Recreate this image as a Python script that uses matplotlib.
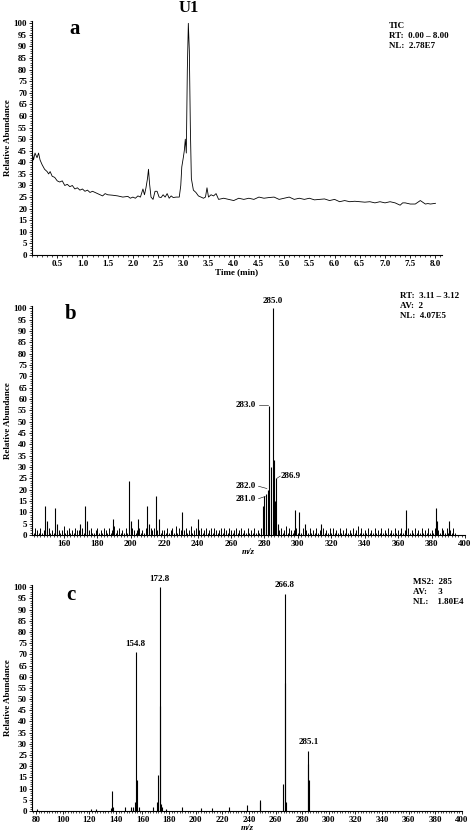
import matplotlib
matplotlib.use("Agg")
import matplotlib.pyplot as plt
from matplotlib.ticker import MultipleLocator

plt.rcParams['font.family'] = ['Liberation Serif']
plt.rcParams['font.weight'] = 'bold'
plt.rcParams['axes.labelweight'] = 'bold'

# ---- panel a: TIC ----
tic_t = [0.0,0.03,0.06,0.1,0.13,0.16,0.2,0.25,0.3,0.33,0.36,0.4,0.45,0.5,0.55,0.6,0.65,0.7,0.75,0.8,0.85,0.9,
         0.95,1.0,1.05,1.1,1.15,1.2,1.3,1.35,1.4,1.45,1.5,1.6,1.7,1.8,1.9,1.95,2.0,2.05,2.1,2.15,2.2,2.23,2.26,
         2.29,2.31,2.33,2.36,2.4,2.44,2.48,2.52,2.56,2.6,2.64,2.68,2.72,2.76,2.8,2.86,2.92,2.95,2.97,3.0,3.02,
         3.04,3.06,3.08,3.1,3.12,3.14,3.16,3.2,3.25,3.3,3.35,3.4,3.44,3.47,3.5,3.55,3.6,3.65,3.7,3.8,3.9,4.0,
         4.1,4.2,4.3,4.4,4.5,4.6,4.7,4.8,4.9,5.0,5.1,5.2,5.3,5.4,5.5,5.6,5.7,5.8,5.9,6.0,6.1,6.2,6.3,6.4,6.5,
         6.6,6.7,6.8,6.9,7.0,7.1,7.2,7.3,7.35,7.4,7.5,7.6,7.7,7.8,7.85,7.9,8.0]
tic_v = [45,41,44,42,44,41,39,37,36,35,36,34,33.5,32,31.5,32,30,30.5,29.5,30,28.5,29,28,28.5,27.5,28,27,27.5,
         26.5,26,25.5,26.5,26,25.8,25.5,25,25.3,24.5,25,24.5,25.5,25,28.5,26,29,33,37,31,25,24,27.5,27.5,25,
         24.8,26,25,26.5,24.5,25.5,24.8,25,25,30,38,42,45,50,44,80,100,88,55,33,28,27,25.5,25,24.5,25,29,25,
         26,25.5,26.5,24,24.5,24,23.5,24.5,24,24.5,24,25,24.5,24.8,25,24,24.5,25,24,24.5,24,24.5,23.8,24,24.2,
         23.5,24,23,23.5,23,23.2,23,22.8,23,22.5,23,22.5,23,22.5,21.5,22.5,22.5,22,22,23.5,22,22.2,22,22.3]

# ---- panel b: full MS ----
msb_mz = [148.5,150,155,156,170,173,174,189.5,199,200,204.5,210,211,215,217,230.5,240.5,
          279,280,281,282,283,284,285,285.6,286.2,286.9,288,298.5,300.5,304,314,364.5,382.5,383.5,390.5]
msb_int = [13,6,12,5,5,13,6,7,24,6,7,13,5,17,7,10,7,
           13,17,18,20,57,30,100,33,15,25,5,11,10,5,5,11,12,6,6]
noise_start = 141
noise_levels = ("2132131212312113212412312132213121231123121321312412312131213212312132132312312"
                "2131231413212312412312312312313212313213212312312131213121321321312312312413212"
                "3121312131213121312131312131213121312413121312131213121312131213121312131213121"
                "31213121321312131")

# ---- panel c: MS2 ----
msc_mz = [81,121,125,136,137,138,147,151,153,154,154.8,155.5,157,168,171,172,172.8,173.3,174,175,178,
          189.5,204,212,225,238.5,248,248.6,265.5,266.8,267.3,268,284.2,284.6,285.1]
msc_int = [1,1,1,1.5,9,2,2,2,2,4,71,14,2,2,4,16,100,47,3,2,1,
           2,1.5,1.5,2,2.5,5,4,12,97,57,4,21,27,14]

fig = plt.figure(figsize=(4.74, 8.36), dpi=100)
W, H = 474, 836
def ax_at(l, t, r, b):
    return fig.add_axes([l/W, 1-b/H, (r-l)/W, (b-t)/H])

fs = 6.5
B = 'bold'
def style(ax):
    ax.set_ylim(0, 101)
    ax.yaxis.set_major_locator(MultipleLocator(5))
    ax.yaxis.set_minor_locator(MultipleLocator(1))
    ax.tick_params(labelsize=fs, length=2.5, width=0.6, pad=1)
    ax.tick_params(which='minor', length=1.5, width=0.5)
    for s in ['top', 'right']:
        ax.spines[s].set_visible(False)
    for s in ['left', 'bottom']:
        ax.spines[s].set_linewidth(0.8)
    ax.set_ylabel('Relative Abundance', fontsize=fs, labelpad=1, fontweight=B)
    for lab in ax.get_xticklabels() + ax.get_yticklabels():
        lab.set_fontweight(B)

# a
ax = ax_at(32, 21, 442, 255)
ax.plot(tic_t, tic_v, color='black', lw=0.6)
ax.set_xlim(0, 8.13)
ax.xaxis.set_minor_locator(MultipleLocator(0.1))
ax.set_xticks([x/2 for x in range(1, 17)])
ax.set_xticklabels([f"{x/2:.1f}" for x in range(1, 17)])
style(ax)
ax.set_xlabel('Time (min)', fontsize=fs, labelpad=0, fontweight=B)
ax.text(0.87, 0.995, 'TIC\nRT:  0.00 – 8.00\nNL:  2.78E7', transform=ax.transAxes, fontsize=6.5, va='top', linespacing=1.3, fontweight=B)
ax.text(0.105, 0.965, 'a', transform=ax.transAxes, fontsize=15, va='center', ha='center', fontweight=B)
ax.text(3.1, 103, 'U1', fontsize=12, ha='center', va='bottom', fontweight=B)

# b
ax = ax_at(32, 306, 465, 535)
nz = [noise_start + i for i in range(len(noise_levels))]
nv = [int(c) for c in noise_levels]
ax.vlines(nz, 0, nv, color='black', lw=0.7)
ax.vlines(msb_mz, 0, msb_int, color='black', lw=0.8)
ax.set_xlim(141, 400)
ax.xaxis.set_major_locator(MultipleLocator(20))
ax.xaxis.set_minor_locator(MultipleLocator(2))
style(ax)
ax.set_xlabel('m/z', fontsize=fs, style='italic', labelpad=0, fontweight=B)
ax.text(0.85, 1.06, 'RT:  3.11 – 3.12\nAV:  2\nNL:  4.07E5', transform=ax.transAxes, fontsize=6.5, va='top', linespacing=1.3, fontweight=B)
ax.text(0.09, 0.965, 'b', transform=ax.transAxes, fontsize=15, va='center', ha='center', fontweight=B)
ax.text(285, 101.5, '285.0', fontsize=6.5, ha='center', va='bottom', fontweight=B)
ax.text(275, 57.5, '283.0', fontsize=6.5, ha='right', va='center', fontweight=B)
ax.plot([276.5, 282.2], [57.5, 57.5], color='black', lw=0.4)
ax.text(275, 21.5, '282.0', fontsize=6.5, ha='right', va='center', fontweight=B)
ax.plot([276.5, 281.5], [21.5, 20.5], color='black', lw=0.4)
ax.text(275, 16, '281.0', fontsize=6.5, ha='right', va='center', fontweight=B)
ax.plot([276.5, 280.5], [16, 17], color='black', lw=0.4)
ax.text(290, 26, '286.9', fontsize=6.5, ha='left', va='center', fontweight=B)
ax.plot([287.5, 289.5], [25, 26], color='black', lw=0.4)

# c
ax = ax_at(32, 585, 462, 811)
ax.vlines(msc_mz, 0, msc_int, color='black', lw=0.8)
ax.set_xlim(77, 400)
ax.xaxis.set_major_locator(MultipleLocator(20))
ax.xaxis.set_minor_locator(MultipleLocator(2))
style(ax)
ax.set_xlabel('m/z', fontsize=fs, style='italic', labelpad=0, fontweight=B)
ax.text(0.885, 1.03, 'MS2:  285\nAV:     3\nNL:    1.80E4', transform=ax.transAxes, fontsize=6.5, va='top', linespacing=1.3, fontweight=B)
ax.text(0.09, 0.955, 'c', transform=ax.transAxes, fontsize=15, va='center', ha='center', fontweight=B)
for m, v, lab in [(154.8, 71, '154.8'), (172.8, 100, '172.8'), (266.8, 97, '266.8'), (285.1, 27, '285.1')]:
    ax.text(m, v + 2, lab, fontsize=6.5, ha='center', va='bottom', fontweight=B)

fig.savefig('out.png', dpi=100)
